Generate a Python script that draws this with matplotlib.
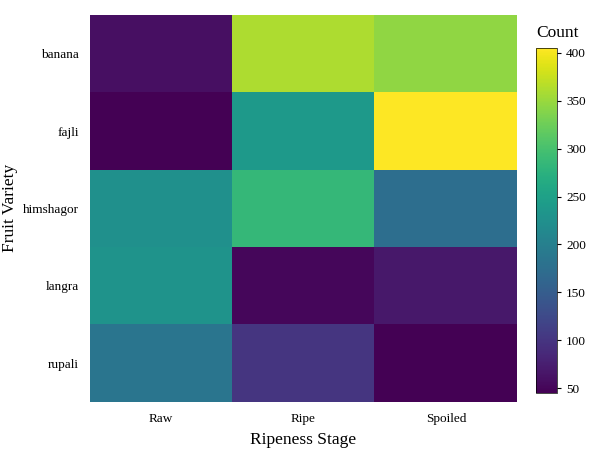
import matplotlib
matplotlib.use("Agg")
import matplotlib.pyplot as plt
import numpy as np

plt.rcParams['font.family'] = ['Liberation Serif', 'DejaVu Serif']

varieties = ["banana", "fajli", "himshagor", "langra", "rupali"]
stages = ["Raw", "Ripe", "Spoiled"]
counts = np.array([
    [60, 360, 345],
    [45, 240, 405],
    [225, 285, 175],
    [230, 52, 68],
    [185, 100, 45],
])

fig = plt.figure(figsize=(5.96, 4.5), dpi=100)
ax = fig.add_axes([90/596, 1-402/450, 427/596, 387/450])
im = ax.imshow(counts, cmap='viridis', aspect='auto', vmin=45, vmax=405)
ax.set_xticks(range(len(stages)))
ax.set_xticklabels(stages, fontsize=9.5)
ax.set_yticks(range(len(varieties)))
ax.set_yticklabels(varieties, fontsize=9.5)
ax.tick_params(length=0, pad=8)
for s in ax.spines.values():
    s.set_visible(False)
fig.text(303/596, 1-440/450, "Ripeness Stage", fontsize=12.5, ha='center', va='center')
fig.text(10/596, 1-208/450, "Fruit Variety", fontsize=12.5, ha='center', va='center', rotation=90)

cax = fig.add_axes([536/596, 1-393/450, 21/596, 345/450])
cb = fig.colorbar(im, cax=cax)
cb.set_ticks([50, 100, 150, 200, 250, 300, 350, 400])
cb.ax.tick_params(labelsize=9.5, length=3)
cb.outline.set_linewidth(0.5)
fig.text(536/596, 1-33/450, "Count", fontsize=12.5, va='center')

fig.savefig("out.png", dpi=100)
